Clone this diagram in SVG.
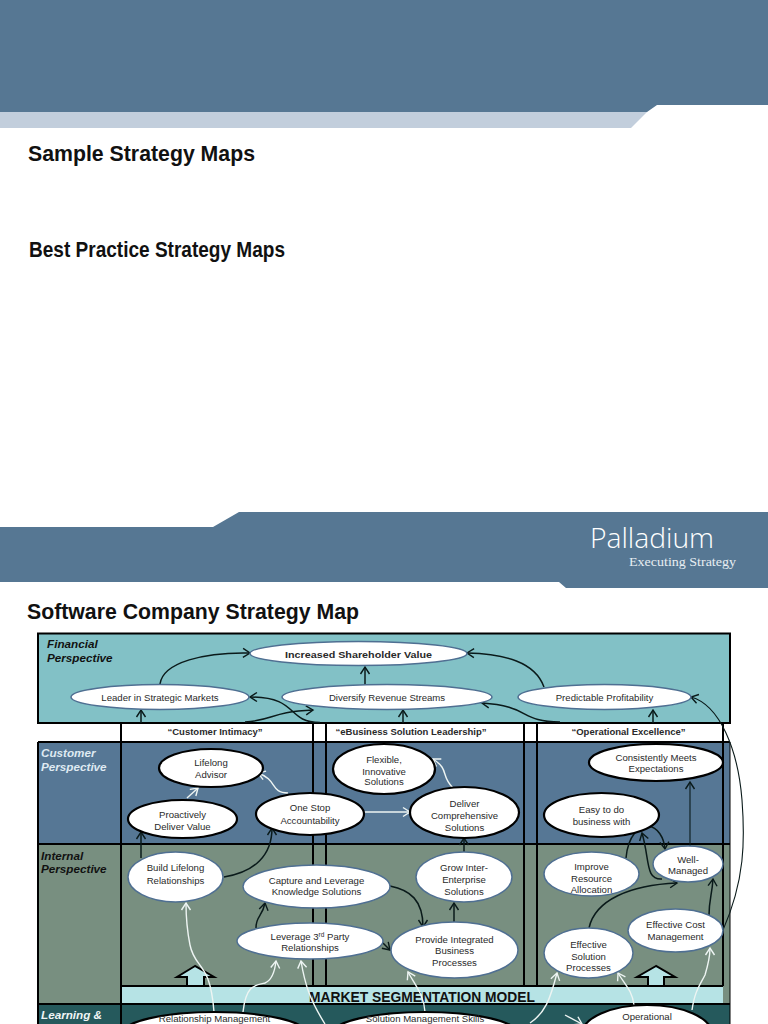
<svg xmlns="http://www.w3.org/2000/svg" width="768" height="1024" viewBox="0 0 768 1024">
<defs>
<style>
text{font-family:"Liberation Sans",Arial,sans-serif;font-size:9.6px;fill:#2a2a2a;text-anchor:middle}
.title{font-size:22px;font-weight:bold;fill:#111;text-anchor:start}
.persp{font-size:11.7px;font-weight:bold;font-style:italic;text-anchor:start}
.col{font-weight:bold;font-size:9.5px}
.n1{fill:#fff;stroke:#4f6f92;stroke-width:1.5}
.n2{fill:#fff;stroke:#000;stroke-width:2.2}
.k{fill:none;stroke:#0a1a1a;stroke-width:1.5;marker-end:url(#ak)}
.w{fill:none;stroke:#eef5f3;stroke-width:1.4;marker-end:url(#aw)}
.grid{stroke:#000;stroke-width:2;fill:none}
.block{fill:#B6E3E5;stroke:#000;stroke-width:2}
</style>
<marker id="ak" markerUnits="userSpaceOnUse" markerWidth="14" markerHeight="14" refX="11" refY="7" orient="auto"><path d="M4 2.5L11 7L4 11.5" fill="none" stroke="#0a1a1a" stroke-width="1.4"/></marker>
<marker id="aw" markerUnits="userSpaceOnUse" markerWidth="14" markerHeight="14" refX="11" refY="7" orient="auto"><path d="M4 2.5L11 7L4 11.5" fill="none" stroke="#eef5f3" stroke-width="1.4"/></marker>
</defs>
<rect width="768" height="1024" fill="#fff"/>
<g id="slide-top">
<path d="M0 0H768V105H657L647 112H0Z" fill="#567793"/>
<path d="M0 112H647L631 128H0Z" fill="#C2CEDC"/>
<text class="title" x="28" y="161" textLength="227" lengthAdjust="spacingAndGlyphs">Sample Strategy Maps</text>
<text class="title" x="29" y="257" textLength="256" lengthAdjust="spacingAndGlyphs">Best Practice Strategy Maps</text>
</g>
<g id="slide-band">
<path d="M0 527H213L239 512H768V588H566L559 582H0Z" fill="#567793"/>
<text x="590" y="548" textLength="124" lengthAdjust="spacingAndGlyphs" style="font-family:'Open Sans',sans-serif;font-weight:300;font-size:28px;fill:#fff;text-anchor:start">Palladium</text>
<text x="629" y="566" textLength="107" lengthAdjust="spacingAndGlyphs" style="font-family:'Liberation Serif',serif;font-size:13px;fill:#e8eef2;text-anchor:start">Executing Strategy</text>
<text class="title" x="27" y="619" textLength="332" lengthAdjust="spacingAndGlyphs">Software Company Strategy Map</text>
</g>
<g id="bands">
<rect x="121" y="723" width="602" height="19" fill="#fff"/>
<rect x="38" y="633.500" width="692" height="89.500" fill="#82C1C6" stroke="#000" stroke-width="2"/>
<rect x="38" y="742" width="692" height="102" fill="#567795"/>
<rect x="38" y="844" width="692" height="160" fill="#788F80"/>
<rect x="38" y="1004" width="692" height="20" fill="#25595C"/>
<rect x="121" y="986" width="602" height="18" fill="#B6E3E5"/>
<path class="grid" d="M38 742H730M38 844H730M38 1004H730M121 986H723M38 742V1024M121 723V1024M313 723V986M326 723V986M524 723V986M537 723V986M723 723V986"/>
<path d="M730 742V1024" stroke="#000" stroke-width="1" fill="none"/>
<path class="block" d="M195 966L177 977H187V986H204V977H214Z"/>
<path class="block" d="M656 966L637 977H648V986H664V977H675Z"/>
<text x="422" y="1002" textLength="226" lengthAdjust="spacingAndGlyphs" style="font-size:14px;font-weight:bold;fill:#111">MARKET SEGMENTATION MODEL</text>
<text class="persp" x="47" y="648" style="fill:#111">Financial</text>
<text class="persp" x="47" y="662" style="fill:#111">Perspective</text>
<text class="persp" x="41" y="757" style="fill:#dfeaf2">Customer</text>
<text class="persp" x="41" y="771" style="fill:#dfeaf2">Perspective</text>
<text class="persp" x="41" y="860" style="fill:#111">Internal</text>
<text class="persp" x="41" y="873" style="fill:#111">Perspective</text>
<text class="persp" x="41" y="1019" style="fill:#eef5f5">Learning &amp;</text>
<text class="col" x="215" y="735">“Customer Intimacy”</text>
<text class="col" x="411" y="735">“eBusiness Solution Leadership”</text>
<text class="col" x="628.500" y="735">“Operational Excellence”</text>
</g>
<g id="connectors">
<path class="k" d="M160 684C163 662 205 652 250 653"/>
<path class="k" d="M365 685V667"/>
<path class="k" d="M544 687C535 662 505 654 467 653"/>
<path class="k" d="M141 723V710"/>
<path class="k" d="M403 723V710"/>
<path class="k" d="M653 723V710"/>
<path class="k" d="M245 722C275 720 270 712 313 710"/>
<path class="k" d="M320 722.500C285 722 300 697 250 697"/>
<path class="k" d="M560 722C520 722 530 706 482 703"/>
<path class="k" style="stroke-width:1.100" d="M723 930C745 880 745 840 742 800C738 750 720 705 691 697"/>
<path class="w" d="M187 798L198 788"/>
<path class="w" d="M288 793C270 793 278 780 258 773"/>
<path class="w" d="M364 812H410"/>
<path class="w" d="M453 788C440 775 450 770 433 759"/>
<path class="k" d="M464 852V838"/>
<path class="k" d="M141 858V832"/>
<path class="k" d="M224 877C255 872 272 855 272 828"/>
<path class="k" d="M256 928C256 915 262 918 265 903"/>
<path class="k" d="M383 943L390 950"/>
<path class="k" d="M390 886C410 890 423 900 423 927"/>
<path class="k" d="M454 922V903"/>
<path class="k" d="M626 858C628 835 640 825 648 826C658 827 664 838 665 849"/>
<path class="k" d="M662 879C645 880 650 860 642 833"/>
<path class="k" d="M589 928C595 900 630 885 677 883"/>
<path class="k" d="M709 915C709 900 712 895 713 879"/>
<path class="k" style="stroke-width:1.100" d="M690 847V782"/>
<path class="w" d="M214 1012C210 960 195 970 190 945C187 930 186 915 186 903"/>
<path class="w" d="M243 1012C246 985 255 985 265 983C272 980 275 970 276 961"/>
<path class="w" d="M325 1024C310 1000 305 985 301 961"/>
<path class="w" d="M425 1012C424 995 415 985 408 972"/>
<path class="w" d="M530 1023C545 1013 550 1000 557 973"/>
<path class="w" d="M634 1005C632 990 625 985 618 973"/>
<path class="w" d="M692 1010C695 990 700 985 705 975C708 965 710 955 710 948"/>
<path class="w" d="M565 1015L582 1024"/>
</g>
<g id="n-shareholder"><ellipse class="n1" cx="358.500" cy="653.500" rx="108.500" ry="12"/><text x="358.500" y="657.500" textLength="147" lengthAdjust="spacingAndGlyphs" style="font-weight:bold">Increased Shareholder Value</text></g>
<g id="n-leader"><ellipse class="n1" cx="160" cy="697" rx="89" ry="12.500"/><text x="160" y="701">Leader in Strategic Markets</text></g>
<g id="n-diversify"><ellipse class="n1" cx="387" cy="697" rx="105" ry="12.500"/><text x="387" y="701">Diversify Revenue Streams</text></g>
<g id="n-predictable"><ellipse class="n1" cx="604.500" cy="697" rx="86.500" ry="12.500"/><text x="604.500" y="701">Predictable Profitability</text></g>
<g id="n-lifelong"><ellipse class="n2" cx="211" cy="768" rx="52" ry="19"/><text x="211" y="766">Lifelong</text><text x="211" y="778">Advisor</text></g>
<g id="n-proactive"><ellipse class="n2" cx="182.500" cy="819" rx="54.500" ry="19"/><text x="182.500" y="818">Proactively</text><text x="182.500" y="830">Deliver Value</text></g>
<g id="n-onestop"><ellipse class="n2" cx="310" cy="814" rx="54" ry="21"/><text x="310" y="811">One Stop</text><text x="310" y="824">Accountability</text></g>
<g id="n-flexible"><ellipse class="n2" cx="384" cy="769" rx="51" ry="25"/><text x="384" y="763">Flexible,</text><text x="384" y="775">Innovative</text><text x="384" y="785">Solutions</text></g>
<g id="n-deliver"><ellipse class="n2" cx="464.500" cy="812.500" rx="54.500" ry="25.500"/><text x="464.500" y="807">Deliver</text><text x="464.500" y="819">Comprehensive</text><text x="464.500" y="831">Solutions</text></g>
<g id="n-consistent"><ellipse class="n2" cx="656" cy="762.500" rx="67" ry="18.500"/><text x="656" y="761">Consistently Meets</text><text x="656" y="772">Expectations</text></g>
<g id="n-easy"><ellipse class="n2" cx="601.500" cy="815" rx="57.500" ry="22"/><text x="601.500" y="813">Easy to do</text><text x="601.500" y="825">business with</text></g>
<g id="n-build"><ellipse class="n1" cx="175.500" cy="877" rx="47.500" ry="25"/><text x="175.500" y="871">Build Lifelong</text><text x="175.500" y="884">Relationships</text></g>
<g id="n-capture"><ellipse class="n1" cx="316.500" cy="886.500" rx="73.500" ry="21.500"/><text x="316.500" y="884">Capture and Leverage</text><text x="316.500" y="895">Knowledge Solutions</text></g>
<g id="n-leverage"><ellipse class="n1" cx="310" cy="941" rx="73" ry="18"/><text x="310" y="940">Leverage 3<tspan dy="-3" style="font-size:6.500px">rd</tspan><tspan dy="3"> Party</tspan></text><text x="310" y="951">Relationships</text></g>
<g id="n-grow"><ellipse class="n1" cx="464" cy="877" rx="48" ry="25"/><text x="464" y="871">Grow Inter-</text><text x="464" y="883">Enterprise</text><text x="464" y="895">Solutions</text></g>
<g id="n-provide"><ellipse class="n1" cx="454.500" cy="950" rx="63.500" ry="28"/><text x="454.500" y="943">Provide Integrated</text><text x="454.500" y="954">Business</text><text x="454.500" y="966">Processes</text></g>
<g id="n-improve"><ellipse class="n1" cx="591.500" cy="874" rx="47.500" ry="22"/><text x="591.500" y="870">Improve</text><text x="591.500" y="882">Resource</text><text x="591.500" y="893">Allocation</text></g>
<g id="n-well"><ellipse class="n1" cx="688" cy="864" rx="35" ry="18"/><text x="688" y="863">Well-</text><text x="688" y="874">Managed</text></g>
<g id="n-cost"><ellipse class="n1" cx="675.500" cy="930.500" rx="47.500" ry="21.500"/><text x="675.500" y="928">Effective Cost</text><text x="675.500" y="940">Management</text></g>
<g id="n-solution"><ellipse class="n1" cx="588.500" cy="953" rx="44.500" ry="25"/><text x="588.500" y="948">Effective</text><text x="588.500" y="960">Solution</text><text x="588.500" y="971">Processes</text></g>
<g id="n-relationship"><ellipse class="n2" cx="214.500" cy="1034" rx="92.500" ry="22"/><text x="214.500" y="1022">Relationship Management</text></g>
<g id="n-skills"><ellipse class="n2" cx="425" cy="1034" rx="93" ry="22"/><text x="425" y="1022">Solution Management Skills</text></g>
<g id="n-operational"><ellipse class="n2" cx="647" cy="1034" rx="65" ry="29"/><text x="647" y="1020">Operational</text></g>
</svg>
